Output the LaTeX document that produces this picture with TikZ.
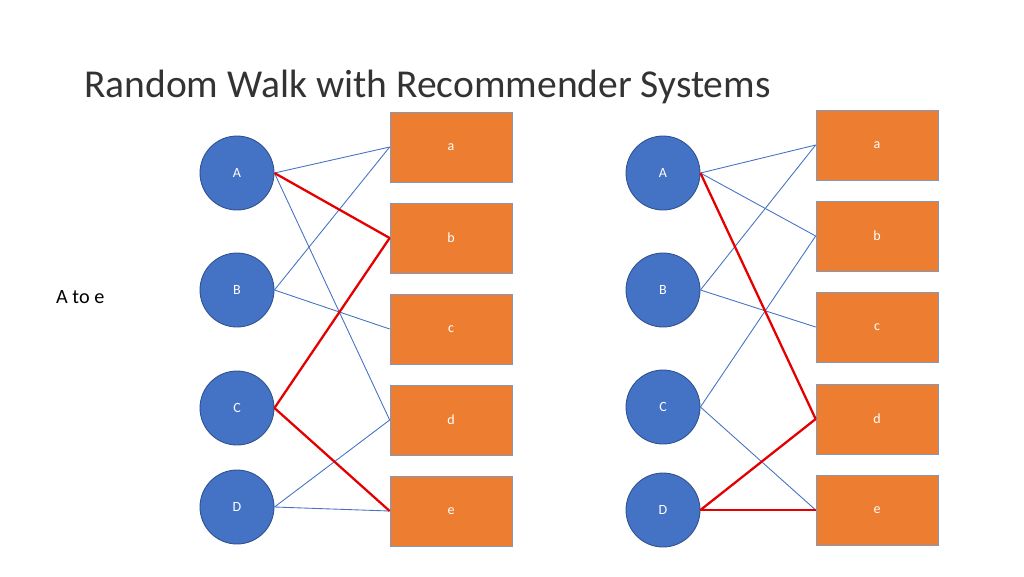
\documentclass[tikz,border=0pt]{standalone}
\usepackage{fontspec}
\setmainfont{Carlito}
\begin{document}
\begin{tikzpicture}[x=0.02cm,y=-0.02cm,
  circ/.style={circle,fill=cb,draw=cbd,line width=0.5pt,minimum size=1.48cm,inner sep=0pt,text=white,font=\fontsize{8}{9}\selectfont},
  box/.style={rectangle,fill=co,draw=cbd!60,line width=0.4pt,minimum width=2.44cm,minimum height=1.4cm,inner sep=0pt,text=white,font=\fontsize{8}{9}\selectfont},
  thin/.style={draw=cb,line width=0.5pt},
  red/.style={draw=red!90!black,line width=1.3pt}]
\definecolor{cb}{HTML}{4472C4}
\definecolor{cbd}{HTML}{2F528F}
\definecolor{co}{HTML}{ED7D31}
\useasboundingbox (0,0) rectangle (1024,576);
\node[anchor=west,font=\fontsize{22.5}{26}\selectfont,text=black!80] (t) at (78,87) {Random Walk with Recommender Systems};
\node[anchor=west,font=\fontsize{11.5}{13}\selectfont] (l) at (50,297) {A to e};
% left
\node[circ] (A1) at (237,173) {A};
\node[circ] (B1) at (237,290) {B};
\node[circ] (C1) at (237,408) {C};
\node[circ] (D1) at (237,507) {D};
\node[box] (a1) at (451,147) {a};
\node[box] (b1) at (451,238) {b};
\node[box] (c1) at (451,329) {c};
\node[box] (d1) at (451,420) {d};
\node[box] (e1) at (451,511) {e};
\draw[thin] (A1.east) -- (a1.west);
\draw[thin] (A1.east) -- (d1.west);
\draw[thin] (B1.east) -- (a1.west);
\draw[thin] (B1.east) -- (c1.west);
\draw[thin] (D1.east) -- (d1.west);
\draw[thin] (D1.east) -- (e1.west);
\draw[red] (A1.east) -- (b1.west);
\draw[red] (C1.east) -- (b1.west);
\draw[red] (C1.east) -- (e1.west);
% right
\node[circ] (A2) at (663,173) {A};
\node[circ] (B2) at (663,290) {B};
\node[circ] (C2) at (663,407) {C};
\node[circ] (D2) at (663,510) {D};
\node[box] (a2) at (877,145) {a};
\node[box] (b2) at (877,236) {b};
\node[box] (c2) at (877,327) {c};
\node[box] (d2) at (877,419) {d};
\node[box] (e2) at (877,510) {e};
\draw[thin] (A2.east) -- (a2.west);
\draw[thin] (A2.east) -- (b2.west);
\draw[thin] (B2.east) -- (a2.west);
\draw[thin] (B2.east) -- (c2.west);
\draw[thin] (C2.east) -- (b2.west);
\draw[thin] (C2.east) -- (e2.west);
\draw[red] (A2.east) -- (d2.west);
\draw[red] (D2.east) -- (d2.west);
\draw[red] (D2.east) -- (e2.west);
\end{tikzpicture}
\end{document}
